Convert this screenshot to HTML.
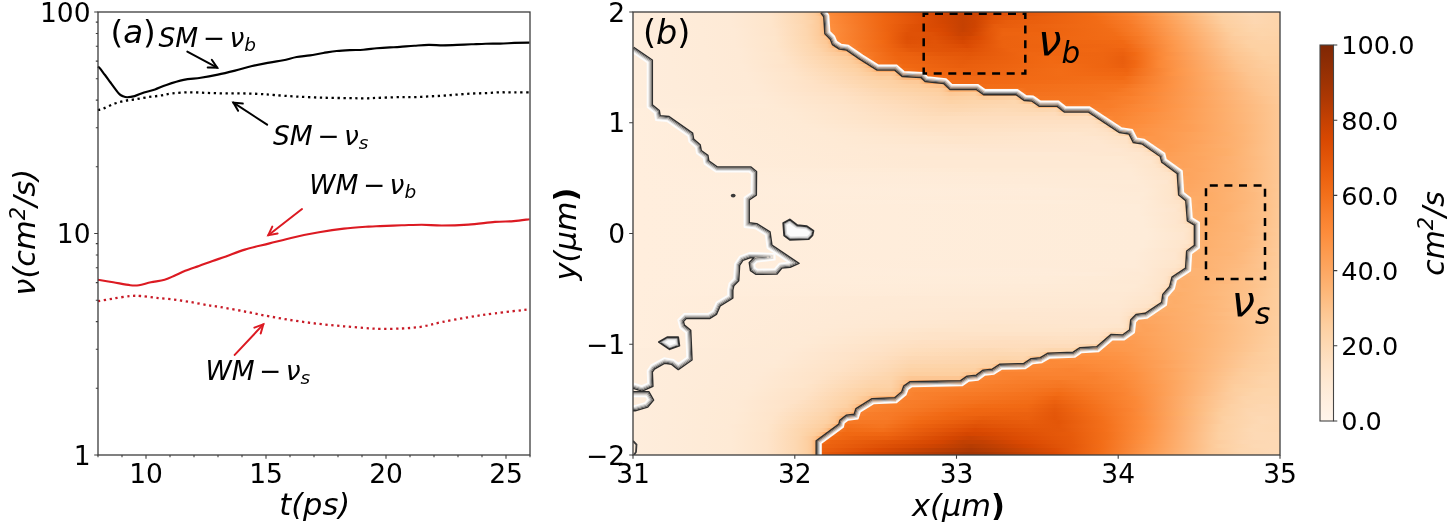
<!DOCTYPE html>
<html><head><meta charset="utf-8"><style>
html,body{margin:0;padding:0;background:#fff;}
#wrap{position:relative;width:1450px;height:525px;overflow:hidden;background:#fff;}
#hm{position:absolute;left:633px;top:12px;width:647px;height:443px;overflow:hidden;}
#hm div{position:absolute;left:0;width:100%;}
#cb{position:absolute;left:1320px;top:45px;width:13.5px;height:376px;}
svg{position:absolute;left:0;top:0;}
text{font-family:'DejaVu Sans', 'Liberation Sans', sans-serif;fill:#000;}
</style></head><body><div id="wrap">

<div id="hm">
<div style="top:0px;height:4px;background:linear-gradient(90deg,#feeddc 2px,#feead6 98px,#fee4ca 138px,#fdd6ae 170px,#fdcb9b 182px,#fdc38d 186px,#fd9243 194px,#fc8937 198px,#ec620f 254px,#d54601 302px,#c34002 330px,#ce4401 346px,#de4e05 362px,#f26c16 458px,#fa8331 498px,#fdaf6c 546px,#fdd1a3 586px,#fdd9b4 618px,#fdd5ad 646px)"></div>
<div style="top:4px;height:4px;background:linear-gradient(90deg,#feeddc 2px,#feead6 98px,#fee5cb 138px,#fdd7af 170px,#fdc997 186px,#fdbb81 190px,#fd994d 194px,#fc8b3a 198px,#ed6310 254px,#d84801 302px,#c54102 330px,#d14501 346px,#e15407 362px,#f26c16 462px,#fa8331 502px,#fdb373 554px,#fdd1a3 590px,#fdd8b2 622px,#fdd5ab 646px)"></div>
<div style="top:8px;height:4px;background:linear-gradient(90deg,#feeddc 2px,#feead6 98px,#fee5cb 138px,#fdd3a9 178px,#fdca99 186px,#fdbe84 190px,#fd9b50 194px,#fd8c3b 198px,#ef6612 250px,#de4e05 290px,#d34601 310px,#c54102 330px,#cd4401 342px,#e15407 358px,#e85d0c 374px,#eb600e 410px,#f26c16 466px,#f77a27 494px,#fd9a4e 530px,#fdcfa0 590px,#fdd7b1 622px,#fdd4aa 646px)"></div>
<div style="top:12px;height:4px;background:linear-gradient(90deg,#feeddc 2px,#feead6 98px,#fee5cb 138px,#fdd8b2 170px,#fdcb9b 186px,#fdbf86 190px,#fd9e54 194px,#fd8e3d 198px,#ef6612 250px,#e05206 278px,#d64701 310px,#c54102 330px,#ce4401 342px,#e75c0c 362px,#ea5f0e 382px,#f26c16 470px,#f77a27 498px,#fd9b50 534px,#fdcfa0 594px,#fdd6ae 622px,#fdd4aa 646px)"></div>
<div style="top:16px;height:4px;background:linear-gradient(90deg,#feeddc 2px,#feead6 102px,#fee4ca 142px,#fdd6ae 174px,#fdcb9b 186px,#fdc088 190px,#fda057 194px,#fd8f3e 198px,#ed6310 254px,#df5106 278px,#db4a02 306px,#c64102 330px,#d14501 342px,#e5590a 358px,#ec620f 370px,#ec620f 410px,#f26d17 478px,#f87f2c 506px,#fda45d 546px,#fdcd9c 594px,#fdd5ab 618px,#fdd4aa 642px,#fdd3a9 646px)"></div>
<div style="top:20px;height:4px;background:linear-gradient(90deg,#feeddc 2px,#feead6 102px,#fee4ca 142px,#fdd6ae 174px,#fdcb9b 186px,#fdc28b 190px,#fda863 194px,#fd9446 198px,#fc8b3a 202px,#ee6410 254px,#df5106 274px,#df5106 298px,#d84801 314px,#cb4302 326px,#ce4401 338px,#e25508 354px,#ed6310 370px,#ee6410 418px,#f26d17 482px,#f87d29 506px,#fda965 554px,#fdd0a2 602px,#fdd5ab 630px,#fdd3a7 646px)"></div>
<div style="top:24px;height:4px;background:linear-gradient(90deg,#feeddc 2px,#feead6 102px,#fee5cb 142px,#fdd7af 174px,#fdc997 190px,#fdc088 194px,#fd9040 202px,#fb8836 206px,#ee6410 254px,#de5005 274px,#df5106 302px,#d04501 330px,#dc4c03 346px,#eb610f 366px,#f26c16 486px,#f67925 506px,#fd994d 538px,#fdcb9b 598px,#fdd3a9 626px,#fdd2a6 646px)"></div>
<div style="top:28px;height:4px;background:linear-gradient(90deg,#feeddc 2px,#feead6 102px,#fee5cb 142px,#fdd5ad 178px,#fdc895 194px,#fdb77a 198px,#fd974a 202px,#fc8b3a 206px,#f16913 250px,#df5106 274px,#e15307 302px,#d64701 330px,#de5005 346px,#ec620f 370px,#f16913 490px,#fd974a 538px,#fdc997 598px,#fdd1a3 614px,#fdd2a6 642px,#fdd1a4 646px)"></div>
<div style="top:32px;height:4px;background:linear-gradient(90deg,#feeddc 2px,#feead6 102px,#fee5cb 142px,#fdd7af 178px,#fdcb9b 194px,#fdc28b 198px,#fd9c51 206px,#fc8b3a 214px,#f77b28 226px,#ef6612 254px,#e25508 274px,#e15407 306px,#db4b03 334px,#ec620f 370px,#ef6612 474px,#f16813 494px,#fd994d 542px,#fdc590 594px,#fdd1a3 618px,#fdd1a4 646px)"></div>
<div style="top:36px;height:4px;background:linear-gradient(90deg,#feeddc 2px,#feead6 106px,#fee4ca 146px,#fdd4aa 186px,#fdc692 202px,#fdb576 210px,#fdae6a 214px,#fd9547 218px,#fa8532 222px,#f67925 230px,#ee6511 258px,#e5590a 278px,#e15307 318px,#e05206 338px,#ed6310 378px,#f06712 462px,#ed6310 490px,#f4711c 506px,#fd9547 538px,#fdc895 602px,#fdd1a3 626px,#fdd1a3 646px)"></div>
<div style="top:40px;height:4px;background:linear-gradient(90deg,#feeddc 2px,#feead6 106px,#fee5cb 146px,#fdd3a9 190px,#fdc590 214px,#fdb77a 218px,#fd9e54 222px,#fb8836 226px,#f87d29 230px,#ee6410 262px,#e5590a 306px,#e35608 338px,#ef6612 394px,#ee6511 470px,#eb600e 490px,#f16913 502px,#fb8836 526px,#fdc48f 598px,#fdd1a3 630px,#fdd0a2 646px)"></div>
<div style="top:44px;height:4px;background:linear-gradient(90deg,#feeddc 2px,#feead6 106px,#fee4ca 150px,#fdcd9c 214px,#fdc895 218px,#fdbf86 222px,#fd8f3e 230px,#f87f2c 234px,#f5741f 242px,#ee6511 266px,#e5590a 334px,#f16813 410px,#ee6511 470px,#e95e0d 490px,#f36e19 506px,#fd9040 534px,#fdc48f 602px,#fdcfa0 630px,#fdcfa0 646px)"></div>
<div style="top:48px;height:4px;background:linear-gradient(90deg,#feeddc 2px,#feead6 106px,#fee5cb 150px,#fdce9e 218px,#fdc48f 226px,#fdb576 230px,#fa8532 238px,#f67824 242px,#ef6612 270px,#e75c0c 330px,#f16913 418px,#ee6511 470px,#e95e0d 490px,#f06712 502px,#fb8836 526px,#fdc590 606px,#fdcfa0 638px,#fdcfa0 646px)"></div>
<div style="top:52px;height:4px;background:linear-gradient(90deg,#feeddc 2px,#feead6 110px,#fee3c8 158px,#fdcfa0 222px,#fdc794 230px,#fdbf86 234px,#fdac67 238px,#fd9141 242px,#f87f2c 246px,#f67824 262px,#f16913 270px,#e95e0d 326px,#f26b15 430px,#ee6410 474px,#ea5f0e 490px,#f16813 502px,#fb8836 526px,#fdc189 602px,#fdcb9b 626px,#fdce9e 646px)"></div>
<div style="top:56px;height:4px;background:linear-gradient(90deg,#feeddc 2px,#feead6 110px,#fee4ca 158px,#fdd1a3 226px,#fdc590 238px,#fdac67 246px,#fda863 262px,#fa8532 266px,#f3701b 270px,#f06712 286px,#eb610f 338px,#f26c16 426px,#ef6612 474px,#ee6410 494px,#f57622 510px,#fd984b 546px,#fdc48f 610px,#fdce9e 642px,#fdce9e 646px)"></div>
<div style="top:60px;height:4px;background:linear-gradient(90deg,#feeddc 2px,#feead6 114px,#fee5cb 158px,#fdd4aa 222px,#fdcd9c 238px,#fdc794 246px,#fdc794 258px,#fdc38d 262px,#fdae6a 266px,#fc8a39 270px,#f57622 290px,#f16813 294px,#ed6310 342px,#f26c16 426px,#f16813 474px,#f06712 494px,#fd9243 538px,#fdc692 618px,#fdcd9c 642px,#fdcd9c 646px)"></div>
<div style="top:64px;height:4px;background:linear-gradient(90deg,#feeddc 2px,#feead6 114px,#fee5cb 162px,#fdd5ad 226px,#fdcfa0 246px,#fdcfa0 258px,#fdc590 266px,#fdbb81 270px,#fdb373 286px,#fd9b50 290px,#f67824 294px,#f16813 314px,#f16813 366px,#f26d17 454px,#f26b15 490px,#f98230 518px,#fdb06e 582px,#fdc48f 618px,#fdcb9b 642px,#fdcb9b 646px)"></div>
<div style="top:68px;height:4px;background:linear-gradient(90deg,#feeddc 2px,#feead6 118px,#fee2c6 178px,#fdd6ae 230px,#fdd2a6 254px,#fdd0a2 262px,#fdca99 274px,#fdc997 286px,#fdae6a 294px,#fd9446 310px,#f77b28 314px,#f26c16 318px,#f16813 334px,#f36f1a 470px,#f3701b 494px,#fd9446 542px,#fdc38d 618px,#fdcb9b 646px)"></div>
<div style="top:72px;height:4px;background:linear-gradient(90deg,#feeddc 2px,#feead6 122px,#fee0c3 194px,#fdd5ab 246px,#fdd2a6 262px,#fdce9e 286px,#fdc692 298px,#fdc088 310px,#fda45d 314px,#f87e2b 318px,#f77b28 342px,#f26c16 350px,#f5741f 490px,#fd9243 538px,#fdc48f 622px,#fdca99 646px)"></div>
<div style="top:76px;height:4px;background:linear-gradient(90deg,#feeddc 2px,#feead6 122px,#fedfc0 210px,#fdd7b1 246px,#fdd5ab 262px,#fdd1a4 286px,#fdce9e 306px,#fdca99 310px,#fdc189 314px,#fdb170 318px,#fdb576 342px,#fd9d53 346px,#f87e2b 350px,#f57520 354px,#f67824 382px,#f36f1a 394px,#f57520 482px,#fc8937 522px,#fdc48f 626px,#fdca99 646px)"></div>
<div style="top:80px;height:4px;background:linear-gradient(90deg,#feeddc 2px,#feead6 126px,#fee0c3 210px,#fdd9b5 246px,#fdd1a4 306px,#fdc997 318px,#fdce9e 342px,#fdc48f 346px,#fdad69 350px,#fda660 354px,#fdab66 382px,#fd9243 386px,#f77a27 390px,#f4721e 394px,#f5741f 458px,#f87d29 498px,#fda057 562px,#fdc590 630px,#fdca99 646px)"></div>
<div style="top:84px;height:4px;background:linear-gradient(90deg,#feeddc 2px,#feebd7 122px,#fee2c6 210px,#fedcb9 246px,#fdd3a9 306px,#fdd0a2 318px,#fdd2a6 342px,#fdcd9c 350px,#fdd1a4 382px,#fdc38d 386px,#fda25a 390px,#fd8f3e 394px,#fc8b3a 398px,#f57520 406px,#f67723 470px,#fc8937 518px,#fdba7f 610px,#fdc997 646px)"></div>
<div style="top:88px;height:4px;background:linear-gradient(90deg,#feeddc 2px,#feead6 134px,#fee3c8 206px,#fdd5ad 306px,#fdd3a7 318px,#fdd5ab 342px,#fdd5ad 370px,#fdd7af 382px,#fdd4aa 386px,#fdcd9c 390px,#fdc692 398px,#fb8836 406px,#f9812e 410px,#f87f2c 426px,#f57520 434px,#f9812e 498px,#fda057 562px,#fdc692 638px,#fdc997 646px)"></div>
<div style="top:92px;height:4px;background:linear-gradient(90deg,#feeddc 2px,#feebd7 130px,#fee4ca 210px,#fedcbb 270px,#fdd7b1 306px,#fdd6ae 326px,#fdd8b2 366px,#fdd8b2 386px,#fdd6ae 398px,#fdd1a3 402px,#fdb97d 406px,#fdba7f 422px,#fda55f 426px,#fb8634 430px,#f77b28 434px,#f87d29 458px,#f87d29 478px,#fd984b 546px,#fdc895 646px)"></div>
<div style="top:96px;height:4px;background:linear-gradient(90deg,#ffeedd 2px,#feead5 150px,#fee4ca 214px,#fdd9b5 306px,#fdd8b2 322px,#fddbb8 370px,#fdd8b2 402px,#fdd7af 410px,#fdd8b2 422px,#fdd1a4 426px,#fdb373 430px,#fda159 434px,#fda45d 454px,#f98230 462px,#f87e2b 470px,#fd8c3b 518px,#fdb271 598px,#fdc895 646px)"></div>
<div style="top:100px;height:4px;background:linear-gradient(90deg,#ffeedd 2px,#feead5 154px,#fee4ca 222px,#fddbb8 306px,#fedcbb 362px,#fedcb9 398px,#fedcbb 422px,#fdd5ad 430px,#fdd7b1 454px,#fdc895 458px,#fda55f 462px,#fd8c3b 466px,#f98230 470px,#fa8532 490px,#fd9b50 550px,#fdba7f 618px,#fdc895 646px)"></div>
<div style="top:104px;height:4px;background:linear-gradient(90deg,#ffeedd 2px,#feead5 158px,#fedebd 302px,#fedebf 366px,#fedebf 414px,#fedebd 442px,#fedfc0 454px,#fedcbb 458px,#fdd5ab 462px,#fd994d 470px,#fc8937 474px,#fa8532 482px,#fd984b 542px,#fdb87c 614px,#fdc895 646px)"></div>
<div style="top:108px;height:4px;background:linear-gradient(90deg,#ffeedd 2px,#feead5 166px,#fedfc0 302px,#fedfc0 354px,#fee0c3 394px,#fee0c3 414px,#fee0c3 442px,#fee0c3 458px,#fedfc0 462px,#fddab6 466px,#fdcd9c 470px,#fdab66 474px,#fd9243 478px,#fc8937 482px,#fd8e3d 510px,#fdad69 590px,#fdc794 646px)"></div>
<div style="top:112px;height:4px;background:linear-gradient(90deg,#ffeedd 2px,#feead5 174px,#fee1c4 298px,#fee1c4 358px,#fee2c7 442px,#fee2c7 458px,#fedebf 470px,#fdd7af 474px,#fdbf86 478px,#fd9f56 482px,#fd9040 486px,#fd8c3b 494px,#fd9f56 558px,#fdb576 610px,#fdc794 646px)"></div>
<div style="top:116px;height:4px;background:linear-gradient(90deg,#ffeedd 2px,#feead5 182px,#fee2c6 306px,#fee3c8 398px,#fee4ca 462px,#fee0c3 474px,#fedcbb 478px,#fdd1a3 482px,#fdb06e 486px,#fda057 490px,#fd9141 502px,#fd9f56 558px,#fdb576 610px,#fdc794 646px)"></div>
<div style="top:120px;height:4px;background:linear-gradient(90deg,#ffeedd 2px,#feead5 190px,#fee3c8 326px,#fee6ce 442px,#fee3c8 474px,#fee0c1 482px,#fdd1a4 494px,#fd9649 502px,#fd9243 510px,#fdae6a 594px,#fdc794 646px)"></div>
<div style="top:124px;height:4px;background:linear-gradient(90deg,#ffeedd 2px,#feead5 194px,#fee5cb 334px,#fee6cf 462px,#fee1c4 494px,#fdd1a3 498px,#fda25a 502px,#fd974a 506px,#fd974a 526px,#fdb170 602px,#fdc794 646px)"></div>
<div style="top:128px;height:4px;background:linear-gradient(90deg,#ffeedd 2px,#feead5 202px,#fee5cc 322px,#fee7d0 466px,#fee3c8 494px,#fedcb9 498px,#fdc48f 502px,#fdb271 510px,#fd9e54 514px,#fd984b 518px,#fda35c 566px,#fdb678 614px,#fdc794 646px)"></div>
<div style="top:132px;height:4px;background:linear-gradient(90deg,#ffeedd 2px,#feead5 210px,#fee6cf 346px,#fee7d1 470px,#fee5cb 494px,#fedebd 506px,#fdd9b4 510px,#fda762 518px,#fd9c51 522px,#fd9c51 538px,#fdb373 606px,#fdc794 646px)"></div>
<div style="top:136px;height:4px;background:linear-gradient(90deg,#ffeedd 2px,#feead5 222px,#fee7d1 350px,#fee7d1 486px,#fee2c7 510px,#fedebd 514px,#fdd1a3 518px,#fdb373 522px,#fda159 526px,#fd9c51 534px,#fdae6a 594px,#fdc794 646px)"></div>
<div style="top:140px;height:4px;background:linear-gradient(90deg,#ffeedd 2px,#fee9d4 262px,#fee9d4 434px,#fee6ce 506px,#fee0c3 518px,#fdd8b2 522px,#fda863 530px,#fd9e54 534px,#fdae6a 594px,#fdc794 646px)"></div>
<div style="top:144px;height:4px;background:linear-gradient(90deg,#ffeedd 2px,#fee9d3 290px,#fee9d3 486px,#fee4ca 518px,#fee2c6 522px,#fedcb9 526px,#fdb678 530px,#fda057 534px,#fda660 570px,#fdba7f 622px,#fdc794 646px)"></div>
<div style="top:148px;height:4px;background:linear-gradient(90deg,#ffeedd 2px,#fee9d4 286px,#fee9d4 486px,#fee6ce 518px,#fedfc0 526px,#fdae6a 534px,#fda35c 538px,#fda057 542px,#fdb06e 598px,#fdc794 646px)"></div>
<div style="top:152px;height:4px;background:linear-gradient(90deg,#ffeedd 2px,#fee9d4 302px,#fee9d4 498px,#fee5cb 522px,#fedebf 530px,#fdd3a7 534px,#fdb77a 538px,#fda762 542px,#fda25a 550px,#fdb271 602px,#fdc794 646px)"></div>
<div style="top:156px;height:4px;background:linear-gradient(90deg,#ffeedd 2px,#feead5 350px,#feead5 498px,#fee5cc 526px,#fee0c3 534px,#fdd8b2 538px,#fdad69 546px,#fda55f 550px,#fda660 566px,#fdb576 610px,#fdc794 646px)"></div>
<div style="top:160px;height:4px;background:linear-gradient(90deg,#ffeedd 2px,#feebd7 354px,#feead6 498px,#fee4ca 534px,#fee2c6 538px,#fedcbb 542px,#fdc28b 546px,#fda762 550px,#fda45d 554px,#fdb271 602px,#fdc794 646px)"></div>
<div style="top:164px;height:4px;background:linear-gradient(90deg,#ffeedd 2px,#feebd8 366px,#feead6 502px,#fee4ca 538px,#fedfc0 542px,#fda863 550px,#fda55f 558px,#fdb271 602px,#fdc794 646px)"></div>
<div style="top:168px;height:4px;background:linear-gradient(90deg,#ffeedd 2px,#feebd8 390px,#feebd7 502px,#fee6cf 534px,#fee0c1 542px,#fdc895 546px,#fda965 550px,#fda55f 554px,#fdb271 602px,#fdc794 646px)"></div>
<div style="top:172px;height:4px;background:linear-gradient(90deg,#ffeedd 2px,#feecd9 394px,#feead6 510px,#fee5cb 538px,#fee0c3 542px,#fdcd9c 546px,#fdac67 550px,#fda660 554px,#fdb576 610px,#fdc895 646px)"></div>
<div style="top:176px;height:4px;background:linear-gradient(90deg,#ffeedd 2px,#feecda 426px,#feead6 514px,#fee5cb 538px,#fee1c4 542px,#fdd0a2 546px,#fdad69 550px,#fda762 554px,#fdb170 598px,#fdc590 642px,#fdc895 646px)"></div>
<div style="top:180px;height:4px;background:linear-gradient(90deg,#ffeedd 2px,#feecda 414px,#feebd7 510px,#fee5cb 538px,#fee1c4 542px,#fdd2a6 546px,#fdb373 550px,#fda965 554px,#fdac67 578px,#fdba7f 622px,#fdc895 646px)"></div>
<div style="top:184px;height:4px;background:linear-gradient(90deg,#ffeedd 2px,#feebd8 506px,#fee5cc 538px,#fedebf 546px,#fdd2a6 550px,#fdb97d 554px,#fdac67 558px,#fdac67 578px,#fdba7f 622px,#fdc895 646px)"></div>
<div style="top:188px;height:4px;background:linear-gradient(90deg,#ffeedd 2px,#feeddb 422px,#feebd7 514px,#fee3c8 546px,#fee0c1 550px,#fdcb9b 554px,#fdae6a 558px,#fda965 566px,#fdb576 610px,#fdc895 646px)"></div>
<div style="top:192px;height:4px;background:linear-gradient(90deg,#ffeedd 2px,#feecd9 506px,#fee5cb 546px,#fee0c3 550px,#fdcfa0 554px,#fdaf6c 558px,#fdab66 566px,#fdb170 598px,#fdc189 634px,#fdc895 646px)"></div>
<div style="top:196px;height:4px;background:linear-gradient(90deg,#ffeedd 2px,#feecd9 506px,#fee6cf 542px,#fee1c4 550px,#fdd1a4 554px,#fdb170 558px,#fdab66 562px,#fdb06e 594px,#fdc189 634px,#fdc997 646px)"></div>
<div style="top:200px;height:4px;background:linear-gradient(90deg,#ffeedd 2px,#feecd9 506px,#fee5cc 546px,#fee2c6 550px,#fdd3a9 554px,#fdb271 558px,#fdac67 562px,#fdb06e 590px,#fdc189 634px,#fdc997 646px)"></div>
<div style="top:204px;height:4px;background:linear-gradient(90deg,#ffeedd 2px,#feecd9 510px,#fee5cc 546px,#fee2c6 550px,#fdd5ad 554px,#fdb475 558px,#fdad69 562px,#fdae6a 582px,#fdbf86 630px,#fdc997 646px)"></div>
<div style="top:208px;height:4px;background:linear-gradient(90deg,#ffeedd 2px,#feecd9 510px,#fee6cf 542px,#fee2c7 550px,#fddbb8 554px,#fdcfa0 558px,#fdba7f 562px,#fdb06e 566px,#fdad69 574px,#fdb97d 618px,#fdc997 646px)"></div>
<div style="top:212px;height:4px;background:linear-gradient(90deg,#ffeedd 2px,#feecd9 510px,#fee5cb 550px,#fee0c1 558px,#fdd1a4 562px,#fdb271 566px,#fdad69 570px,#fdb678 610px,#fdc997 646px)"></div>
<div style="top:216px;height:4px;background:linear-gradient(90deg,#ffeedd 2px,#feecd9 514px,#fee5cb 554px,#fee1c4 558px,#fdd1a4 562px,#fdb373 566px,#fdae6a 570px,#fdb678 610px,#fdca99 646px)"></div>
<div style="top:220px;height:4px;background:linear-gradient(90deg,#ffeedd 2px,#feecd9 514px,#fee6cf 550px,#fee1c4 558px,#fdd1a4 562px,#fdb373 566px,#fdae6a 570px,#fdb87c 614px,#fdc794 642px,#fdca99 646px)"></div>
<div style="top:224px;height:4px;background:linear-gradient(90deg,#ffeedd 2px,#feecd9 514px,#fee6cf 550px,#fee1c4 558px,#fdd1a4 562px,#fdb373 566px,#fdaf6c 570px,#fdb678 606px,#fdca99 646px)"></div>
<div style="top:228px;height:4px;background:linear-gradient(90deg,#ffeedd 2px,#feecd9 510px,#fee5cb 554px,#fee1c4 558px,#fdd1a4 562px,#fdb475 566px,#fdaf6c 570px,#fdba7f 618px,#fdca99 646px)"></div>
<div style="top:232px;height:4px;background:linear-gradient(90deg,#ffeedd 2px,#feecd9 510px,#fee6ce 546px,#fee2c6 554px,#fedcbb 558px,#fdd0a2 562px,#fdb475 566px,#fdaf6c 570px,#fdb97d 614px,#fdca99 646px)"></div>
<div style="top:236px;height:4px;background:linear-gradient(90deg,#ffeedd 2px,#feecd9 506px,#fee5cc 546px,#fee2c6 550px,#fdd9b4 554px,#fdb678 562px,#fdb06e 570px,#fdb87c 610px,#fdcb9b 646px)"></div>
<div style="top:240px;height:4px;background:linear-gradient(90deg,#ffeedd 2px,#feecd9 502px,#fee6cf 542px,#fee1c4 550px,#fdd3a7 554px,#fdb576 558px,#fdb06e 562px,#fdb576 598px,#fdc895 642px,#fdcb9b 646px)"></div>
<div style="top:244px;height:4px;background:linear-gradient(90deg,#ffeedd 2px,#feecd9 502px,#fee6cf 542px,#fee1c4 550px,#fdd1a4 554px,#fdb475 558px,#fdb06e 562px,#fdb77a 602px,#fdcb9b 646px)"></div>
<div style="top:248px;height:4px;background:linear-gradient(90deg,#ffeedd 2px,#feebd8 502px,#fee5cb 546px,#fee0c3 550px,#fdd0a2 554px,#fdb475 558px,#fdb06e 562px,#fdba7f 610px,#fdcb9b 646px)"></div>
<div style="top:252px;height:4px;background:linear-gradient(90deg,#ffeedd 2px,#feebd8 502px,#fee5cb 542px,#fee0c1 550px,#fdcd9c 554px,#fdb373 558px,#fdb06e 562px,#fdba7f 606px,#fdcb9b 646px)"></div>
<div style="top:256px;height:4px;background:linear-gradient(90deg,#ffeedd 2px,#feecda 414px,#feead6 510px,#fee2c7 542px,#fedebf 546px,#fdd5ad 550px,#fdb373 558px,#fdb373 578px,#fdc28b 626px,#fdcd9c 646px)"></div>
<div style="top:260px;height:4px;background:linear-gradient(90deg,#ffeedd 2px,#feecda 458px,#fee9d4 514px,#fee4ca 534px,#fee1c4 538px,#fddab6 542px,#fdba7f 550px,#fdb373 554px,#fdb373 574px,#fdc38d 626px,#fdcd9c 646px)"></div>
<div style="top:264px;height:4px;background:linear-gradient(90deg,#ffeedd 2px,#feecd9 414px,#feead5 506px,#fee5cc 530px,#fee2c7 534px,#fdd9b5 538px,#fdc28b 542px,#fdb475 546px,#fdb06e 554px,#fdbe84 610px,#fdcd9c 646px)"></div>
<div style="top:268px;height:4px;background:linear-gradient(90deg,#ffeedd 2px,#feecd9 406px,#fee9d4 510px,#fee5cb 530px,#fee2c6 534px,#fdd4aa 538px,#fdb678 542px,#fdaf6c 546px,#fdb87c 594px,#fdcd9c 646px)"></div>
<div style="top:272px;height:4px;background:linear-gradient(90deg,#ffeedd 2px,#feebd8 390px,#feead5 502px,#fee5cc 526px,#fedfc0 534px,#fdcd9c 538px,#fdb271 542px,#fdaf6c 550px,#fdc189 618px,#fdcd9c 646px)"></div>
<div style="top:276px;height:4px;background:linear-gradient(90deg,#ffeedd 2px,#feebd7 378px,#feead5 494px,#fee7d0 518px,#fee4ca 526px,#fee0c1 530px,#fdd3a9 534px,#fdb97d 538px,#fdb06e 542px,#fdb170 558px,#fdc088 614px,#fdce9e 646px)"></div>
<div style="top:280px;height:4px;background:linear-gradient(90deg,#ffeedd 2px,#feead6 406px,#fee9d4 490px,#fee6cf 518px,#fee2c6 526px,#fdd6ae 530px,#fdbb81 534px,#fdb06e 538px,#fdae6a 546px,#fdc28b 618px,#fdce9e 646px)"></div>
<div style="top:284px;height:4px;background:linear-gradient(90deg,#ffeedd 2px,#feead6 250px,#fee9d4 486px,#fee5cb 522px,#fee1c4 526px,#fdd0a2 530px,#fdb170 534px,#fdad69 538px,#fdb678 582px,#fdce9e 646px)"></div>
<div style="top:288px;height:4px;background:linear-gradient(90deg,#ffeedd 2px,#feead6 242px,#fee9d3 482px,#fee4ca 518px,#feddbc 526px,#fdca99 530px,#fdb06e 534px,#fdad69 542px,#fdc189 614px,#fdce9e 646px)"></div>
<div style="top:292px;height:4px;background:linear-gradient(90deg,#ffeedd 2px,#feead6 234px,#fee9d3 410px,#fee8d2 486px,#fee3c8 514px,#fee0c1 518px,#fdd8b2 522px,#fdb475 530px,#fdad69 534px,#fdb271 566px,#fdce9e 646px)"></div>
<div style="top:296px;height:4px;background:linear-gradient(90deg,#ffeedd 2px,#feead6 226px,#fee8d2 370px,#fee7d1 486px,#fee1c4 510px,#feddbc 514px,#fdd1a4 518px,#fdba7f 522px,#fdae6a 526px,#fdac67 538px,#fdba7f 594px,#fdce9e 646px)"></div>
<div style="top:300px;height:4px;background:linear-gradient(90deg,#ffeedd 2px,#feead6 218px,#fee7d1 370px,#fee7d0 486px,#fee2c6 498px,#fdd4aa 506px,#fdd1a4 510px,#fdc590 514px,#fdb170 518px,#fda965 522px,#fdb06e 558px,#fdce9e 646px)"></div>
<div style="top:304px;height:4px;background:linear-gradient(90deg,#ffeedd 2px,#feead6 206px,#fee7d0 374px,#fee6cf 486px,#fee2c6 494px,#fdd9b5 498px,#fdc088 502px,#fdae6a 506px,#fda660 522px,#fdb97d 590px,#fdcfa0 646px)"></div>
<div style="top:308px;height:4px;background:linear-gradient(90deg,#ffeedd 2px,#feead6 198px,#fee6ce 342px,#fee6cf 486px,#fee1c4 494px,#fdcfa0 498px,#fda965 502px,#fda35c 506px,#fdb06e 558px,#fdcfa0 646px)"></div>
<div style="top:312px;height:4px;background:linear-gradient(90deg,#ffeedd 2px,#feead6 190px,#fee5cb 354px,#fee6ce 462px,#fee5cb 490px,#fee0c1 494px,#fdc997 498px,#fda660 502px,#fda25a 510px,#fdb373 570px,#fdcfa0 646px)"></div>
<div style="top:316px;height:4px;background:linear-gradient(90deg,#ffeedd 2px,#feead6 182px,#fee5cb 302px,#fee5cb 426px,#fee4ca 466px,#fee2c6 482px,#fee1c4 490px,#fddbb8 494px,#fdc38d 498px,#fda45d 502px,#fda25a 514px,#fdb77a 582px,#fdcfa0 646px)"></div>
<div style="top:320px;height:4px;background:linear-gradient(90deg,#ffeedd 2px,#feead5 186px,#fee3c8 302px,#fee3c8 430px,#fee2c7 466px,#fedebf 474px,#fdd5ad 478px,#fdd7b1 486px,#fdd5ad 490px,#fdbd83 494px,#fda762 498px,#fda057 502px,#fdae6a 554px,#fdcfa0 646px)"></div>
<div style="top:324px;height:4px;background:linear-gradient(90deg,#ffeedd 2px,#feead6 170px,#fee5cb 250px,#fee0c3 370px,#fee0c3 406px,#fee1c4 426px,#fee0c3 466px,#fedcbb 470px,#fdcfa0 474px,#fdaf6c 478px,#fda965 482px,#fdae6a 490px,#fda159 494px,#fd9e54 502px,#fdaf6c 558px,#fdd0a2 646px)"></div>
<div style="top:328px;height:4px;background:linear-gradient(90deg,#ffeedd 2px,#feead5 174px,#fee4ca 250px,#fee0c3 286px,#fedebf 370px,#fedfc0 426px,#fedfc0 462px,#fddab6 466px,#fdc895 470px,#fda863 474px,#fd9b50 478px,#fd9b50 498px,#fdb271 566px,#fdcfa0 642px,#fdd0a2 646px)"></div>
<div style="top:332px;height:4px;background:linear-gradient(90deg,#ffeedd 2px,#feead5 166px,#fee2c6 254px,#fedfc0 286px,#fedcbb 426px,#fedcbb 442px,#fdd7b1 446px,#fdd3a9 462px,#fdc189 466px,#fda35c 470px,#fd984b 474px,#fd9a4e 498px,#fdb271 566px,#fdcb9b 630px,#fdd0a2 646px)"></div>
<div style="top:336px;height:4px;background:linear-gradient(90deg,#feeddc 2px,#feead6 154px,#fee2c7 246px,#fedebd 278px,#fddab6 358px,#fedcb9 390px,#fdd9b4 410px,#fdd7af 418px,#fdd7af 438px,#fdd1a3 442px,#fdb77a 446px,#fda965 450px,#fda35c 462px,#fd9547 470px,#fd9c51 510px,#fdb678 574px,#fdcfa0 638px,#fdd1a3 646px)"></div>
<div style="top:340px;height:4px;background:linear-gradient(90deg,#feeddc 2px,#feead6 150px,#fee0c3 250px,#fedcb9 282px,#fdd8b2 358px,#fdd8b2 394px,#fdd7af 406px,#fdd2a6 410px,#fdc189 414px,#fdb87c 418px,#fdb06e 438px,#fda660 442px,#fd9649 446px,#fd9141 450px,#fd9547 490px,#fdac67 550px,#fdcd9c 626px,#fdd1a3 646px)"></div>
<div style="top:344px;height:4px;background:linear-gradient(90deg,#feeddc 2px,#feead6 146px,#fee4ca 210px,#fedfc0 250px,#fdd9b5 278px,#fdd6ae 358px,#fdd5ab 370px,#fdd6ae 390px,#fdd3a9 394px,#fdc895 398px,#fdc088 406px,#fd994d 414px,#fd9243 418px,#fd9040 442px,#fd8c3b 450px,#fd9446 494px,#fdae6a 554px,#fdca99 618px,#fdd1a4 646px)"></div>
<div style="top:348px;height:4px;background:linear-gradient(90deg,#feeddc 2px,#feead6 142px,#fee2c6 218px,#fedcbb 254px,#fdd7b1 278px,#fdd5ad 342px,#fdd2a6 362px,#fdcd9c 366px,#fdce9e 390px,#fd9f56 398px,#fd9649 402px,#fc8937 418px,#fd8f3e 482px,#fda159 530px,#fdca99 614px,#fdd1a4 642px,#fdd1a4 646px)"></div>
<div style="top:352px;height:4px;background:linear-gradient(90deg,#feeddc 2px,#feead5 142px,#fee2c6 210px,#fddbb8 254px,#fdd5ab 278px,#fdd3a7 342px,#fdcfa0 358px,#fdc590 362px,#fdaf6c 366px,#fda45d 370px,#fda159 390px,#fc8a39 398px,#fb8735 446px,#fd9141 494px,#fdb678 570px,#fdcd9c 618px,#fdd2a6 642px,#fdd2a6 646px)"></div>
<div style="top:356px;height:4px;background:linear-gradient(90deg,#feeddc 2px,#feead6 130px,#fee2c6 206px,#fdd9b5 254px,#fdd2a6 278px,#fdd1a3 330px,#fdd0a2 342px,#fdc997 346px,#fdba7f 350px,#fdb170 358px,#fd8f3e 366px,#fc8937 370px,#fa8331 438px,#fd8e3d 490px,#fda45d 538px,#fdcb9b 610px,#fdd3a7 646px)"></div>
<div style="top:360px;height:4px;background:linear-gradient(90deg,#feeddc 2px,#feead6 126px,#fee3c8 190px,#fddab6 242px,#fdd6ae 258px,#fdcfa0 278px,#fdcfa0 326px,#fdc590 334px,#fdc28b 342px,#fdb06e 346px,#fd9649 350px,#fd8e3d 354px,#fa8331 370px,#fa8331 462px,#fd9141 502px,#fdb373 562px,#fdcd9c 610px,#fdd3a7 638px,#fdd3a7 646px)"></div>
<div style="top:364px;height:4px;background:linear-gradient(90deg,#feeddc 2px,#feead6 122px,#fee3c8 186px,#fdd7b1 242px,#fdd5ab 258px,#fdc794 278px,#fdc692 326px,#fdbb81 330px,#fda45d 334px,#fb8634 350px,#f9802d 386px,#f9812e 462px,#fd9040 502px,#fdaf6c 554px,#fdca99 602px,#fdd3a7 630px,#fdd3a9 646px)"></div>
<div style="top:368px;height:4px;background:linear-gradient(90deg,#feeddc 2px,#feead6 118px,#fee4ca 178px,#fdd5ad 238px,#fdd3a9 258px,#fdc794 270px,#fdbf86 274px,#fdaf6c 278px,#fda45d 326px,#fb8836 334px,#fa8331 342px,#f67925 426px,#fb8836 490px,#fda660 542px,#fdca99 598px,#fdd3a9 630px,#fdd4aa 646px)"></div>
<div style="top:372px;height:4px;background:linear-gradient(90deg,#feeddc 2px,#feead6 114px,#fee5cb 170px,#fdd3a7 242px,#fdd2a6 258px,#fdc997 266px,#fdb87c 270px,#fda057 274px,#fd8f3e 278px,#fa8331 330px,#f87d29 362px,#f57622 430px,#fa8532 486px,#fd994d 522px,#fdce9e 602px,#fdd4aa 638px,#fdd4aa 646px)"></div>
<div style="top:376px;height:4px;background:linear-gradient(90deg,#feeddc 2px,#feead5 118px,#fee2c6 178px,#fdd0a2 238px,#fdcfa0 258px,#fdc590 266px,#fdac67 270px,#fc8b3a 274px,#fa8532 278px,#f67824 386px,#f3701b 426px,#fb8735 494px,#fda159 534px,#fdcfa0 602px,#fdd5ab 630px,#fdd5ab 646px)"></div>
<div style="top:380px;height:4px;background:linear-gradient(90deg,#feeddc 2px,#feead5 114px,#fee2c6 174px,#fdd0a2 230px,#fdc997 242px,#fdc794 258px,#fdc48f 262px,#fdb271 266px,#fd974a 270px,#fb8634 274px,#f9812e 282px,#f4711c 402px,#f26b15 426px,#fa8331 490px,#fd9e54 530px,#fdcb9b 594px,#fdd5ab 622px,#fdd5ab 646px)"></div>
<div style="top:384px;height:4px;background:linear-gradient(90deg,#feeddc 2px,#feead5 110px,#fee2c6 170px,#fdd1a3 222px,#fdc692 234px,#fdbb81 238px,#fdb271 254px,#fdad69 262px,#fd9243 266px,#fa8331 270px,#f67723 326px,#f36f1a 398px,#ee6511 422px,#f4711c 450px,#fc8937 502px,#fdc088 574px,#fdd3a9 610px,#fdd6ae 642px,#fdd5ad 646px)"></div>
<div style="top:388px;height:4px;background:linear-gradient(90deg,#feeddc 2px,#feead6 102px,#fee2c7 162px,#fdd2a6 214px,#fdc895 226px,#fdc088 230px,#fdb06e 234px,#fd994d 238px,#fd9040 242px,#fb8836 262px,#f87e2b 270px,#f3701b 354px,#f26c16 398px,#eb600e 422px,#f3701b 454px,#fb8836 502px,#fdb475 558px,#fdcb9b 590px,#fdd5ab 614px,#fdd6ae 646px)"></div>
<div style="top:392px;height:4px;background:linear-gradient(90deg,#feeddc 2px,#feead6 102px,#fee4ca 150px,#fdd9b4 190px,#fdd0a2 214px,#fdc48f 222px,#fdb77a 226px,#fda057 230px,#fd8e3d 234px,#fa8532 238px,#f26c16 346px,#f16913 394px,#e75c0c 422px,#f4711c 462px,#fc8a39 506px,#fdbb81 566px,#fdd1a4 598px,#fdd7b1 630px,#fdd6ae 646px)"></div>
<div style="top:396px;height:4px;background:linear-gradient(90deg,#feeddc 2px,#feead5 106px,#fee4ca 146px,#fdd7b1 190px,#fdc895 218px,#fdb576 222px,#fd9243 226px,#fa8532 230px,#f06712 342px,#ef6612 394px,#e5590a 422px,#f06712 446px,#fa8331 498px,#fdb271 554px,#fdce9e 590px,#fdd6ae 614px,#fdd7b1 642px,#fdd7af 646px)"></div>
<div style="top:400px;height:4px;background:linear-gradient(90deg,#feeddc 2px,#feead5 102px,#fee4ca 142px,#fdd4aa 194px,#fdca99 206px,#fdba7f 214px,#fdb678 218px,#fda762 222px,#fa8331 226px,#f87e2b 234px,#f77a27 258px,#f06712 318px,#ed6310 362px,#eb610f 398px,#e45709 422px,#f36e19 462px,#fb8735 502px,#fdac67 546px,#fdcd9c 586px,#fdd7b1 618px,#fdd7b1 646px)"></div>
<div style="top:404px;height:4px;background:linear-gradient(90deg,#feeddc 2px,#feead5 102px,#fee5cb 138px,#fdd2a6 194px,#fdca99 202px,#fdc189 206px,#fdac67 210px,#fd8f3e 214px,#f87d29 226px,#f77a27 254px,#f26d17 286px,#e85d0c 350px,#eb600e 394px,#e35608 422px,#f36e19 466px,#fc8937 506px,#fdd0a2 590px,#fdd9b4 626px,#fdd7b1 646px)"></div>
<div style="top:408px;height:4px;background:linear-gradient(90deg,#feeddc 2px,#feead5 102px,#fee4ca 138px,#fdd0a2 194px,#fdc895 202px,#fdb271 206px,#fb8634 210px,#f67925 214px,#f67723 254px,#f16813 286px,#e45709 346px,#e75c0c 398px,#e35608 426px,#f36f1a 470px,#fd8e3d 510px,#fdb77a 558px,#fdd2a6 594px,#fdd9b5 630px,#fdd8b2 646px)"></div>
<div style="top:412px;height:4px;background:linear-gradient(90deg,#feeddc 2px,#feead6 94px,#fee5cb 134px,#fdcfa0 190px,#fdc590 198px,#fdb678 202px,#f77a27 210px,#f4711c 214px,#f57520 250px,#ee6410 282px,#df5106 342px,#e5590a 398px,#e45709 426px,#f4711c 474px,#fd9141 514px,#fdcfa0 586px,#fdd9b4 622px,#fdd8b2 646px)"></div>
<div style="top:416px;height:4px;background:linear-gradient(90deg,#feeddc 2px,#feead5 98px,#fee5cb 134px,#fdce9e 186px,#fdc997 190px,#fdc189 194px,#fdac67 198px,#fc8b3a 202px,#f57622 206px,#f26d17 214px,#f36f1a 250px,#ea5f0e 282px,#db4a02 342px,#e35608 402px,#e4580a 430px,#f36e19 470px,#fd8e3d 510px,#fdcfa0 586px,#fdd9b4 618px,#fdd8b2 646px)"></div>
<div style="top:420px;height:4px;background:linear-gradient(90deg,#feeddc 2px,#feead5 98px,#fee4ca 134px,#fdd7af 166px,#fdcd9c 182px,#fdc794 186px,#fdba7f 190px,#f9802d 198px,#f3701b 202px,#f16913 210px,#ef6612 254px,#d54601 334px,#d64701 350px,#e15307 402px,#e75b0b 438px,#f3701b 474px,#fd9243 514px,#fdd0a2 586px,#fdd9b5 622px,#fdd9b4 646px)"></div>
<div style="top:424px;height:4px;background:linear-gradient(90deg,#feeddc 2px,#feead5 98px,#fee4ca 134px,#fdd6ae 166px,#fdcb9b 178px,#fdc48f 182px,#fdb271 186px,#fd9243 190px,#f57520 194px,#f26b15 198px,#ec620f 222px,#ea5f0e 254px,#d54601 318px,#c94202 338px,#db4b03 382px,#e65a0b 438px,#f3701b 474px,#fd9344 514px,#fdd0a2 586px,#fdd9b5 622px,#fdd9b4 646px)"></div>
<div style="top:428px;height:4px;background:linear-gradient(90deg,#feeddc 2px,#feead5 98px,#fee4ca 134px,#fdd8b2 162px,#fdd0a2 174px,#fdca99 178px,#fdb77a 182px,#fa8331 186px,#f26d17 190px,#ed6310 198px,#de5005 274px,#d54601 306px,#c14002 330px,#c34002 350px,#da4902 390px,#e5590a 438px,#f26b15 466px,#fd9141 510px,#fdca99 578px,#fdd7b1 610px,#fdd9b5 642px,#fdd9b4 646px)"></div>
<div style="top:432px;height:4px;background:linear-gradient(90deg,#feeddc 2px,#feead5 98px,#fee4ca 134px,#fdd8b2 162px,#fdd0a2 174px,#fdca99 178px,#fdb77a 182px,#f87d29 186px,#ed6310 190px,#e15307 242px,#d14501 294px,#b63c02 338px,#c14002 362px,#d54601 394px,#e65a0b 442px,#f36e19 470px,#fd994d 518px,#fdd0a2 586px,#fdd9b4 622px,#fdd9b4 646px)"></div>
<div style="top:436px;height:4px;background:linear-gradient(90deg,#feeddc 2px,#feead5 98px,#fee4ca 134px,#fdd8b2 162px,#fdd0a2 174px,#fdca99 178px,#fdb678 182px,#f67925 186px,#ea5f0e 190px,#db4a02 246px,#bb3d02 310px,#ad3803 338px,#b93d02 362px,#dd4d04 422px,#f26b15 466px,#fd974a 514px,#fdca99 578px,#fdd6ae 606px,#fdd9b5 638px,#fdd9b4 646px)"></div>
<div style="top:440px;height:4px;background:linear-gradient(90deg,#feeddc 2px,#feead5 98px,#fee4ca 134px,#fdd8b2 162px,#fdd0a2 174px,#fdca99 178px,#fdb576 182px,#f57622 186px,#e65a0b 190px,#d54601 234px,#ad3803 314px,#a43503 334px,#a93703 354px,#db4a02 422px,#f36f1a 470px,#fd994d 514px,#fdca99 578px,#fdd6ae 610px,#fdd9b5 642px,#fdd9b4 646px)"></div>
</div>
<div id="cb" style="background:linear-gradient(to bottom,#7f2704 0%,#8e2d04 5%,#9e3303 10%,#b03903 15%,#c54102 20%,#d84801 25%,#e25508 30%,#ec620f 35%,#f3701b 40%,#f87f2c 45%,#fd8c3b 50%,#fd9a4e 55%,#fda762 60%,#fdb576 65%,#fdc38d 70%,#fdd0a2 75%,#fdd9b4 80%,#fee2c6 85%,#fee9d4 90%,#ffefe0 95%,#fff5eb 100%)"></div>
<svg width="1450" height="525" viewBox="0 0 1450 525">
<path d="M98,66.5 C98.3,66.8 98.8,67 100,68.4 C101.2,69.8 103.2,72.7 105,75 C106.8,77.3 108.2,79.4 110.5,82.5 C112.8,85.6 116.7,91.2 118.8,93.5 C120.9,95.8 121.6,95.6 123,96.2 C124.4,96.8 125.3,97.2 127.2,97.2 C129.1,97.2 131.8,96.9 134.6,96.1 C137.4,95.3 140.6,93.6 144,92.5 C147.4,91.4 151.3,90.7 155,89.4 C158.7,88.1 161.6,86.5 166.4,84.9 C171.2,83.3 177.9,81.1 183.6,79.9 C189.3,78.7 195,78.7 200.7,77.8 C206.4,76.9 212.2,75.8 217.9,74.6 C223.6,73.4 229.3,72 235,70.6 C240.7,69.2 246.4,67.3 252.1,66 C257.8,64.7 264.1,63.6 269.3,62.6 C274.5,61.6 278.7,61.2 283.3,60.3 C287.9,59.4 292.2,57.8 296.7,57 C301.1,56.2 305.6,56.1 310,55.4 C314.4,54.7 318.9,53.7 323.3,53 C327.8,52.3 332.2,51.5 336.7,51 C341.1,50.5 345.6,50.3 350,50.1 C354.4,49.9 358.9,50 363.3,49.7 C367.8,49.4 372.2,48.7 376.7,48.3 C381.1,47.9 386.1,47.6 390,47.4 C393.9,47.2 395.9,47.2 400,46.9 C404.1,46.6 409.5,46 414.3,45.7 C419.1,45.4 423.8,45 428.6,44.9 C433.4,44.8 438.1,45.3 442.9,45.3 C447.6,45.3 452.4,45.1 457.1,44.9 C461.9,44.7 466.6,44.5 471.4,44.3 C476.2,44.1 480.9,43.8 485.7,43.7 C490.5,43.6 495.2,43.7 500,43.6 C504.8,43.5 509.4,43.1 514.3,42.9 C519.2,42.7 527,42.6 529.5,42.6" fill="none" stroke="#000" stroke-width="2.15" stroke-linejoin="round"/>
<path d="M98,110 C98.8,109.8 100.5,109.7 103.1,108.7 C105.7,107.7 109.9,105.3 113.6,104 C117.3,102.7 121.3,101.6 125.1,100.8 C128.8,100 132.3,99.8 136.1,99.2 C139.8,98.6 143.7,97.8 147.6,97.2 C151.5,96.6 155.5,96.3 159.6,95.7 C163.7,95.1 167.1,94 172.1,93.4 C177.1,92.8 183.6,92.4 189.3,92.3 C195,92.2 200.7,92.7 206.4,92.9 C212.1,93.1 217.9,93.3 223.6,93.4 C229.3,93.5 235,93.3 240.7,93.4 C246.4,93.5 252.3,93.6 257.9,93.9 C263.4,94.2 267.5,94.5 274,95 C280.5,95.5 288.5,96.1 296.7,96.6 C304.9,97 314.4,97.5 323.3,97.7 C332.2,98 343.3,98 350,98.1 C356.7,98.2 358.9,98.4 363.3,98.4 C367.8,98.4 370.6,98.1 376.7,97.9 C382.8,97.7 393.7,97.2 400,97.1 C406.3,97 409.5,97.2 414.3,97.1 C419.1,97 423.8,96.6 428.6,96.4 C433.4,96.2 438.1,96 442.9,95.7 C447.6,95.4 452.4,94.9 457.1,94.6 C461.9,94.2 466.6,93.8 471.4,93.6 C476.2,93.3 480.9,93.3 485.7,93.1 C490.5,92.9 495.2,92.4 500,92.3 C504.8,92.2 509.4,92.4 514.3,92.4 C519.2,92.4 527,92.4 529.5,92.4" fill="none" stroke="#000" stroke-width="2.3" stroke-dasharray="2.3 3.6"/>
<path d="M98,279.7 C100.5,280.1 107.8,281.4 113.2,282.3 C118.6,283.2 126,284.7 130.3,285.2 C134.6,285.7 135.5,285.7 138.9,285.2 C142.3,284.7 146.6,283.2 150.9,282.3 C155.2,281.4 160.6,280.8 164.6,279.7 C168.6,278.6 171.5,277 174.9,275.5 C178.3,274 181.2,272.4 185.2,270.8 C189.2,269.2 194.3,267.6 198.9,266 C203.5,264.4 208.1,262.5 212.6,260.9 C217.1,259.3 220.6,258.4 226,256.5 C231.4,254.6 237.6,251.8 244.8,249.6 C252.1,247.4 261.2,245.5 269.5,243.4 C277.8,241.3 286.1,239 294.3,237.2 C302.6,235.3 310.8,233.7 319,232.3 C327.2,230.9 335.6,229.6 343.8,228.6 C352.1,227.6 362.5,227 368.5,226.6 C374.5,226.2 374.5,226.3 380,226.1 C385.5,225.9 394.8,225.5 401.7,225.3 C408.6,225.1 415,224.7 421.7,224.7 C428.4,224.7 433.9,225.5 441.7,225.5 C449.5,225.5 459.4,225.2 468.3,224.6 C477.2,224 487.4,222.5 495,221.9 C502.6,221.3 508,221.6 513.7,221.1 C519.5,220.6 526.9,219.5 529.5,219.2" fill="none" stroke="#dc1a22" stroke-width="2.15" stroke-linejoin="round"/>
<path d="M98,301.2 C100.5,300.8 107.8,299.5 113.2,298.6 C118.6,297.7 125.7,296.4 130.3,296 C134.9,295.6 136.3,295.7 140.6,296 C144.9,296.3 150.6,297.2 156,297.8 C161.4,298.4 167.5,298.8 173.2,299.5 C178.9,300.2 184.6,301.1 190.3,302 C196,302.9 202.6,304.4 207.5,305.2 C212.4,306 213.8,305.9 220,307 C226.2,308.1 236.6,309.9 244.8,311.5 C253.1,313.1 261.2,314.9 269.5,316.4 C277.8,317.9 286.1,319.4 294.3,320.6 C302.6,321.9 310.8,322.9 319,323.9 C327.2,324.8 335.6,325.6 343.8,326.3 C352.1,327 362.5,327.9 368.5,328.3 C374.5,328.7 374.5,328.8 380,328.8 C385.5,328.8 394.8,328.9 401.7,328.5 C408.6,328.1 415,327.8 421.7,326.7 C428.4,325.6 433.9,323.7 441.7,322.1 C449.5,320.5 459.4,318.8 468.3,317.3 C477.2,315.8 484.8,314.6 495,313.3 C505.2,312 523.8,310 529.5,309.3" fill="none" stroke="#c81a26" stroke-width="2.3" stroke-dasharray="2.3 3.6"/>
<line x1="187.3" y1="51.6" x2="217.2" y2="67.6" stroke="#000" stroke-width="2.0" stroke-linecap="round"/>
<path d="M211.8,59.8 L217.2,67.6 L207.7,67.4" fill="none" stroke="#000" stroke-width="2.0" stroke-linejoin="miter" stroke-linecap="round"/>
<line x1="267.1" y1="124.7" x2="233.4" y2="102.6" stroke="#000" stroke-width="2.0" stroke-linecap="round"/>
<path d="M238.1,110.8 L233.4,102.6 L242.8,103.6" fill="none" stroke="#000" stroke-width="2.0" stroke-linejoin="miter" stroke-linecap="round"/>
<line x1="302" y1="209" x2="268.3" y2="235.2" stroke="#dc1a22" stroke-width="2.0" stroke-linecap="round"/>
<path d="M277.6,233.4 L268.3,235.2 L272.3,226.6" fill="none" stroke="#dc1a22" stroke-width="2.0" stroke-linejoin="miter" stroke-linecap="round"/>
<line x1="234.7" y1="354.9" x2="263.3" y2="324.4" stroke="#dc1a22" stroke-width="2.0" stroke-linecap="round"/>
<path d="M254.4,327.6 L263.3,324.4 L260.7,333.5" fill="none" stroke="#dc1a22" stroke-width="2.0" stroke-linejoin="miter" stroke-linecap="round"/>
<rect x="98" y="12" width="432" height="443" fill="none" stroke="#3c3c3c" stroke-width="1.3"/>
<path d="M98,455 v2.2 M122,455 v2.2 M146,455 v3.8 M170,455 v2.2 M194,455 v2.2 M218,455 v2.2 M242,455 v2.2 M266,455 v3.8 M290,455 v2.2 M314,455 v2.2 M338,455 v2.2 M362,455 v2.2 M386,455 v3.8 M410,455 v2.2 M434,455 v2.2 M458,455 v2.2 M482,455 v2.2 M506,455 v3.8 M530,455 v2.2 M98,455 h-3.8 M98,388.3 h-2.2 M98,349.3 h-2.2 M98,321.6 h-2.2 M98,300.2 h-2.2 M98,282.6 h-2.2 M98,267.8 h-2.2 M98,255 h-2.2 M98,243.6 h-2.2 M98,233.5 h-3.8 M98,166.8 h-2.2 M98,127.8 h-2.2 M98,100.1 h-2.2 M98,78.7 h-2.2 M98,61.1 h-2.2 M98,46.3 h-2.2 M98,33.5 h-2.2 M98,22.1 h-2.2 M98,12 h-3.8" stroke="#3c3c3c" stroke-width="1.1" fill="none"/>
<text x="146" y="482.9" font-size="26.5" text-anchor="middle">10</text>
<text x="266" y="482.9" font-size="26.5" text-anchor="middle">15</text>
<text x="386" y="482.9" font-size="26.5" text-anchor="middle">20</text>
<text x="506" y="482.9" font-size="26.5" text-anchor="middle">25</text>
<text x="90.5" y="21.7" font-size="26.5" text-anchor="end">100</text>
<text x="90.5" y="243.2" font-size="26.5" text-anchor="end">10</text>
<text x="90.5" y="464.7" font-size="26.5" text-anchor="end">1</text>
<text x="110.5" y="43.2" font-size="32.5">(<tspan font-style="italic">a</tspan>)</text>
<text x="158.5" y="46.6" font-size="26.5" font-style="italic" text-anchor="start">SM<tspan font-style="normal" dx="4.5">−</tspan><tspan dx="4.5">ν</tspan><tspan font-size="18.5" dy="4.2">b</tspan></text>
<text x="273" y="145.2" font-size="26.5" font-style="italic" text-anchor="start">SM<tspan font-style="normal" dx="4.5">−</tspan><tspan dx="4.5">ν</tspan><tspan font-size="18.5" dy="4.2">s</tspan></text>
<text x="309.3" y="193.8" font-size="26.5" font-style="italic" text-anchor="start">WM<tspan font-style="normal" dx="4.5">−</tspan><tspan dx="4.5">ν</tspan><tspan font-size="18.5" dy="4.2">b</tspan></text>
<text x="205.5" y="379.6" font-size="26.5" font-style="italic" text-anchor="start">WM<tspan font-style="normal" dx="4.5">−</tspan><tspan dx="4.5">ν</tspan><tspan font-size="18.5" dy="4.2">s</tspan></text>
<text x="314.7" y="515" font-size="30.5" font-style="italic" text-anchor="middle">t(ps)</text>
<text transform="translate(34.7,232.2) rotate(-90)" font-size="30.5" font-style="italic" text-anchor="middle">ν(cm<tspan font-size="21" dy="-9.5">2</tspan><tspan dy="9.5">/s)</tspan></text>
<defs><clipPath id="clipb"><rect x="633" y="12" width="647" height="443"/></clipPath></defs><g clip-path="url(#clipb)"><path d="M816.2,455 L816.2,440.8 L838.9,424.2 L839.8,420.3 L846.2,415.3 L854.2,414.3 L856,408.6 L872,398.7 L894.7,397.7 L901.8,391.7 L903.7,386.2 L910.1,381.7 L960.6,380.7 L967.1,376.2 L976.3,375.2 L983.1,370.2 L992.3,369.2 L1000,364.2 L1023.6,363.7 L1031.1,358.7 L1040.4,357.7 L1048,353.2 L1073.2,352.2 L1080,347.7 L1096.7,346.7 L1110.9,334.6 L1122.5,335 L1129.7,329.9 L1130.8,319.7 L1136,314.5 L1145.2,313.3 L1161.7,302.3 L1162.8,294.5 L1169.7,286.5 L1172,277.2 L1185.6,268.2 L1186.7,251 L1194.4,245.3 L1194.4,225 L1187.4,220.8 L1185.8,200.7 L1178.7,195 L1177.3,173.6 L1161.8,162.2 L1160.3,156.5 L1142.4,144.1 L1133.4,142.6 L1129.1,134.1 L1119.5,132.6 L1088.2,111.9 L1064.2,111.9 L1056.9,106.2 L1039.1,106.2 L1031.7,101 L1024.4,100.6 L1016,94.7 L983.6,94.7 L976.2,89.5 L950,89.5 L943.9,83.6 L925.1,81.5 L920.9,77.4 L902.1,76.4 L894.8,70.1 L877.1,70.1 L860,59.4 L846.6,50.1 L839.3,49 L832.4,44.5 L830.3,39.1 L824.9,33.8 L823.8,16.8 L820.9,12.7" fill="none" stroke="#2e2e2e" stroke-width="1.5" stroke-linejoin="round"/>
<path d="M817.4,455 L817.4,441.4 L839.9,424.9 L840.9,420.9 L846.7,416.4 L855.1,415.4 L857,409.4 L872.4,399.9 L895.2,398.9 L902.8,392.4 L904.7,386.9 L910.5,382.9 L961,381.9 L967.6,377.4 L976.8,376.4 L983.6,371.4 L992.8,370.4 L1000.4,365.4 L1024,364.9 L1031.6,359.9 L1040.8,358.9 L1048.4,354.4 L1073.6,353.4 L1080.4,348.9 L1097.2,347.9 L1111.4,335.8 L1122.9,336.2 L1130.8,330.5 L1131.9,320.3 L1136.6,315.6 L1145.7,314.5 L1162.8,303 L1163.9,295.1 L1170.8,287.1 L1173,277.9 L1186.8,268.8 L1187.9,251.6 L1195.6,245.9 L1195.6,224.4 L1188.5,220.1 L1187,200.1 L1179.9,194.4 L1178.5,173 L1162.8,161.5 L1161.3,155.8 L1142.9,143 L1134.2,141.5 L1129.9,133 L1120,131.5 L1088.6,110.7 L1064.6,110.7 L1057.3,105 L1039.5,105 L1032.1,99.8 L1024.8,99.4 L1016.4,93.5 L984,93.5 L976.6,88.3 L950.5,88.3 L944.5,82.5 L925.7,80.4 L921.5,76.2 L902.6,75.2 L895.3,68.9 L877.5,68.9 L860.6,58.4 L847.1,49 L839.8,47.9 L833.4,43.7 L831.3,38.5 L826.1,33.2 L825,16.4 L821.9,12.1" fill="none" stroke="#6a6a6a" stroke-width="1.1" stroke-linejoin="round"/>
<path d="M818.5,455 L818.5,442 L840.9,425.6 L841.9,421.6 L847.1,417.5 L856,416.4 L857.9,410.2 L872.7,401 L895.6,400 L903.8,393.1 L905.6,387.6 L910.8,384 L961.3,383 L968,378.5 L977.2,377.5 L984,372.5 L993.1,371.5 L1000.7,366.5 L1024.3,366 L1031.9,361 L1041.1,360 L1048.7,355.5 L1073.9,354.5 L1080.7,350 L1097.6,349 L1111.8,336.9 L1123.2,337.3 L1131.8,331.2 L1133,320.8 L1137.1,316.7 L1146.1,315.6 L1163.8,303.7 L1165,295.5 L1171.8,287.6 L1174,278.6 L1187.9,269.5 L1189,252.2 L1196.7,246.5 L1196.7,223.7 L1189.6,219.4 L1188.1,199.5 L1181,193.8 L1179.6,172.4 L1163.8,160.8 L1162.3,155.1 L1143.3,142 L1135,140.5 L1130.7,132 L1120.4,130.4 L1088.9,109.6 L1064.9,109.6 L1057.6,103.9 L1039.8,103.9 L1032.4,98.7 L1025.1,98.3 L1016.7,92.4 L984.3,92.4 L976.9,87.2 L950.9,87.2 L944.9,81.4 L926.2,79.3 L921.9,75.1 L903,74.1 L895.7,67.8 L877.8,67.8 L861.2,57.5 L847.5,47.9 L840.2,46.8 L834.3,42.9 L832.3,37.8 L827.2,32.8 L826.1,16.1 L822.8,11.4" fill="none" stroke="#a8a8a8" stroke-width="1.2" stroke-linejoin="round"/>
<path d="M819.6,455 L819.6,442.6 L841.9,426.2 L842.9,422.2 L847.5,418.5 L856.8,417.4 L858.9,410.9 L873,402.1 L896,401.1 L904.7,393.7 L906.6,388.3 L911.2,385.1 L961.7,384.1 L968.3,379.5 L977.6,378.5 L984.4,373.5 L993.5,372.5 L1001,367.6 L1024.6,367.1 L1032.3,362 L1041.5,361 L1049,356.6 L1074.3,355.6 L1081.1,351.1 L1098,350.1 L1112.1,338 L1123.5,338.4 L1132.9,331.8 L1134,321.3 L1137.6,317.7 L1146.5,316.6 L1164.9,304.3 L1166,296 L1172.8,288.1 L1174.9,279.3 L1188.9,270.1 L1190,252.8 L1197.8,247.1 L1197.8,223.1 L1190.6,218.8 L1189.1,198.9 L1182,193.2 L1180.6,171.8 L1164.7,160.1 L1163.2,154.4 L1143.7,140.9 L1135.7,139.5 L1131.4,131 L1120.8,129.4 L1089.2,108.5 L1065.3,108.5 L1058,102.8 L1040.2,102.8 L1032.8,97.6 L1025.5,97.2 L1017.1,91.3 L984.7,91.3 L977.3,86.1 L951.3,86.1 L945.4,80.4 L926.7,78.3 L922.4,74 L903.4,73 L896.1,66.7 L878.1,66.7 L861.9,56.5 L847.9,46.9 L840.6,45.8 L835.2,42.2 L833.2,37.2 L828.2,32.3 L827.2,15.7 L823.7,10.8" fill="none" stroke="#d8d8d8" stroke-width="1.2" stroke-linejoin="round"/>
<path d="M820.9,455 L820.9,443.2 L843,427 L844,422.9 L848.1,419.8 L857.8,418.6 L860,411.7 L873.4,403.4 L896.5,402.3 L905.8,394.5 L907.7,389.2 L911.6,386.4 L962.1,385.4 L968.8,380.8 L978.1,379.8 L984.9,374.8 L994,373.8 L1001.5,368.9 L1025.1,368.4 L1032.8,363.3 L1041.9,362.3 L1049.4,357.9 L1074.7,356.9 L1081.5,352.3 L1098.5,351.3 L1112.6,339.3 L1123.9,339.7 L1134.1,332.5 L1135.3,321.9 L1138.2,318.9 L1146.9,317.9 L1166.1,305.1 L1167.2,296.6 L1174,288.7 L1176.1,280.1 L1190.2,270.8 L1191.3,253.5 L1199.1,247.7 L1199.1,222.4 L1191.9,218 L1190.4,198.3 L1183.3,192.6 L1181.9,171.1 L1165.9,159.4 L1164.4,153.6 L1144.2,139.7 L1136.6,138.3 L1132.2,129.8 L1121.2,128.1 L1089.6,107.2 L1065.8,107.2 L1058.5,101.5 L1040.6,101.5 L1033.3,96.4 L1026,96 L1017.5,90 L985.1,90 L977.7,84.8 L951.9,84.8 L946,79.1 L927.3,77.1 L923,72.8 L903.9,71.8 L896.6,65.4 L878.5,65.4 L862.6,55.5 L848.4,45.7 L841.1,44.6 L836.3,41.4 L834.3,36.5 L829.5,31.7 L828.4,15.2 L824.8,10" fill="none" stroke="#fcfcfc" stroke-width="1.8" stroke-linejoin="round"/>
<path d="M633.7,47.3 L652.3,60 L652.3,104.9 L659.3,110.5 L660.1,115.7 L669.1,116.6 L692.6,133.2 L693.6,139.1 L700.2,144.8 L701.2,150.5 L707.9,155.3 L708.8,160.9 L717.5,167 L751,167 L756.5,171.5 L756.3,195.2 L749.2,200 L749.2,222.8 L756.8,223.7 L770,231.8 L771.9,245.2 L777.1,248.7 L799,263.3 L799,263.4 L790.1,267.3 L781.9,268.1 L777,273.9 L756,274.3 L750.5,270.6 L749.3,262.6 L754.1,257.8 L750,257.7 L742.9,260.4 L739.6,265.4 L738.7,280.8 L733.8,285.7 L732.8,290.1 L732.8,298.1 L720.2,305.8 L716.4,314.4 L709.6,318.5 L686.2,318.5 L683.4,321.4 L684.4,325.2 L690.7,330.3 L692,360 L678.3,369.6 L671.6,364.3 L664.9,363.2 L654.4,369 L652.3,372.1 L652.9,386.2 L642.1,391.1 L632.6,388.2" fill="none" stroke="#2e2e2e" stroke-width="1.5" stroke-linejoin="round"/>
<path d="M633.1,48.3 L651.1,60.6 L651.1,105.5 L658.2,111.1 L659.1,116.8 L668.6,117.8 L691.5,133.9 L692.5,139.7 L699.1,145.4 L700.1,151.1 L706.8,155.9 L707.7,161.6 L717.1,168.2 L750.5,168.2 L755.3,172.1 L755.1,194.6 L748,199.4 L748,223.9 L756.4,224.9 L768.9,232.5 L770.8,245.9 L776.5,249.7 L796.6,263.1 L796.6,263.1 L789.8,266.1 L781.3,267 L776.4,272.7 L756.4,273.1 L751.6,269.9 L750.6,263.1 L755.5,258.2 L766.4,257.1 L749.8,256.5 L742.2,259.4 L738.4,265 L737.5,280.2 L732.7,285.1 L731.6,290 L731.6,297.5 L719.3,305 L715.5,313.6 L709.2,317.3 L685.7,317.3 L682.1,321 L683.3,325.8 L689.5,330.9 L690.8,359.4 L678.3,368.1 L672.1,363.2 L664.7,361.9 L653.6,368.1 L651.1,371.7 L651.7,385.5 L642,389.8 L633,387.1" fill="none" stroke="#6a6a6a" stroke-width="1.1" stroke-linejoin="round"/>
<path d="M632.4,49.2 L650,61.2 L650,106 L657.2,111.7 L658.1,117.8 L668.2,118.9 L690.5,134.6 L691.5,140.3 L698.1,146 L699.1,151.8 L705.8,156.6 L706.7,162.3 L716.8,169.3 L750.1,169.3 L754.2,172.6 L754,194 L746.9,198.8 L746.9,224.9 L756.1,226 L767.9,233.2 L769.8,246.6 L775.8,250.6 L794.3,262.9 L789.5,265 L780.7,265.9 L775.9,271.6 L756.7,272 L752.6,269.2 L751.8,263.5 L756,259.3 L769.9,257.8 L769.9,256.1 L749.6,255.4 L741.4,258.5 L737.3,264.7 L736.4,279.8 L731.7,284.5 L730.5,289.9 L730.5,296.8 L718.4,304.2 L714.6,312.8 L708.9,316.2 L685.3,316.2 L680.9,320.7 L682.3,326.5 L688.4,331.4 L689.7,358.8 L678.3,366.8 L672.5,362.2 L664.5,360.8 L652.8,367.2 L650,371.4 L650.6,384.8 L641.9,388.6 L633.3,386" fill="none" stroke="#a8a8a8" stroke-width="1.2" stroke-linejoin="round"/>
<path d="M631.8,50.1 L648.9,61.8 L648.9,106.5 L656.2,112.3 L657.2,118.8 L667.8,119.9 L689.5,135.2 L690.5,140.9 L697.1,146.6 L698.1,152.4 L704.8,157.2 L705.7,162.9 L716.4,170.4 L749.8,170.4 L753.1,173.1 L752.9,193.4 L745.8,198.2 L745.8,225.9 L755.7,227 L766.9,233.9 L768.8,247.2 L775.2,251.5 L792,262.7 L789.3,263.9 L780.1,264.9 L775.4,270.5 L757,270.9 L753.6,268.6 L752.9,263.8 L756.5,260.3 L772.2,258.7 L772,255 L749.5,254.3 L740.7,257.6 L736.2,264.3 L735.4,279.3 L730.7,283.9 L729.4,289.8 L729.4,296.2 L717.5,303.4 L713.7,312 L708.6,315.1 L684.8,315.1 L679.7,320.4 L681.3,327.1 L687.3,331.9 L688.5,358.2 L678.4,365.4 L673,361.1 L664.3,359.6 L652,366.4 L648.9,371.1 L649.4,384.1 L641.9,387.5 L633.6,385" fill="none" stroke="#d8d8d8" stroke-width="1.2" stroke-linejoin="round"/>
<path d="M631.1,51.2 L647.6,62.5 L647.6,107.1 L654.9,113 L656,120 L667.4,121.2 L688.3,136 L689.3,141.6 L695.9,147.3 L696.9,153.2 L703.6,157.9 L704.5,163.7 L716,171.7 L749.3,171.7 L751.8,173.7 L751.6,192.7 L744.5,197.5 L744.5,227 L755.3,228.3 L765.7,234.7 L767.5,248 L774.5,252.6 L789.3,262.5 L788.9,262.7 L779.5,263.7 L774.8,269.2 L757.4,269.6 L754.8,267.8 L754.3,264.3 L757.1,261.6 L774.8,259.7 L774.6,253.8 L749.2,253 L739.9,256.5 L735,263.9 L734.1,278.7 L729.5,283.3 L728.1,289.6 L728.1,295.5 L716.5,302.6 L712.7,311.1 L708.3,313.8 L684.3,313.8 L678.2,320 L680.2,327.8 L686.1,332.6 L687.2,357.6 L678.4,363.8 L673.5,359.9 L664.1,358.2 L651.1,365.4 L647.6,370.7 L648.1,383.2 L641.8,386.1 L634,383.7" fill="none" stroke="#fcfcfc" stroke-width="1.8" stroke-linejoin="round"/>
<path d="M783.1,223.1 L789.8,219.3 L797.4,225 L806.9,226 L813.6,230.7 L812.6,235.5 L808.8,239.3 L789.8,239.9 L784,235.5 L783.1,223.1Z" fill="#fbfbfb" stroke="none"/>
<path d="M785.8,224.6 L786.5,234.1 L790.6,237.3 L807.7,236.7 L810.2,234.2 L810.7,231.8 L806,228.5 L796.4,227.5 L789.6,222.4 L785.8,224.6Z" fill="none" stroke="#dedede" stroke-width="1.4"/>
<path d="M784.7,223.9 L785.4,234.7 L790.3,238.4 L808.2,237.8 L811.2,234.8 L811.9,231.4 L806.4,227.5 L796.8,226.4 L789.7,221.1 L784.7,223.9Z" fill="none" stroke="#ababab" stroke-width="1.2"/>
<path d="M783.3,223.2 L784.2,235.4 L789.9,239.7 L808.7,239.1 L812.4,235.4 L813.4,230.8 L806.8,226.2 L797.3,225.2 L789.8,219.5 L783.3,223.2Z" fill="none" stroke="#2e2e2e" stroke-width="1.9" stroke-linejoin="round"/>
<path d="M658.5,342 L667.1,337 L678.3,337 L679.5,345.7 L669.6,349.4 L658.5,342Z" fill="#fbfbfb" stroke="none"/>
<path d="M663.4,342.2 L669.9,346.5 L676.6,344 L676,339.6 L667.8,339.6 L663.4,342.2Z" fill="none" stroke="#dedede" stroke-width="1.4"/>
<path d="M661.3,342.1 L669.8,347.7 L677.8,344.7 L677,338.5 L667.5,338.5 L661.3,342.1Z" fill="none" stroke="#ababab" stroke-width="1.2"/>
<path d="M658.9,342 L669.6,349.2 L679.3,345.6 L678.1,337.2 L667.2,337.2 L658.9,342Z" fill="none" stroke="#2e2e2e" stroke-width="1.9" stroke-linejoin="round"/>
<path d="M633,391.7 L648.8,391.7 L653.6,400.1 L647.7,407.1 L635.2,410.7 L633,410.7" fill="none" stroke="#2e2e2e" stroke-width="1.5" stroke-linejoin="round"/>
<path d="M633,392.9 L648.1,392.9 L652.1,400 L647.1,406.1 L635,409.5 L633,409.5" fill="none" stroke="#6a6a6a" stroke-width="1.1" stroke-linejoin="round"/>
<path d="M633,394 L647.4,394 L650.8,399.9 L646.4,405.1 L634.9,408.4 L633,408.4" fill="none" stroke="#a8a8a8" stroke-width="1.2" stroke-linejoin="round"/>
<path d="M633,395.1 L646.8,395.1 L649.5,399.8 L645.8,404.2 L634.7,407.3 L633,407.3" fill="none" stroke="#d8d8d8" stroke-width="1.2" stroke-linejoin="round"/>
<path d="M633,396.4 L646,396.4 L647.9,399.6 L645.1,403 L634.5,406 L633,406" fill="none" stroke="#fcfcfc" stroke-width="1.8" stroke-linejoin="round"/>
<path d="M633,441 L636.5,444.5 L636,452 L634,455" fill="none" stroke="#3a3a3a" stroke-width="1.8"/>
<ellipse cx="733.2" cy="195.6" rx="2.4" ry="1.9" fill="#3a3a3a"/></g>
<path d="M923.7,73.4 H1025.3 V13.7 H923.7 Z" fill="none" stroke="#000" stroke-width="2.5" stroke-dasharray="8 6.6" stroke-dashoffset="4.6"/>
<path d="M1206,279.1 H1265 V185.5 H1206 Z" fill="none" stroke="#000" stroke-width="2.5" stroke-dasharray="8 6.6" stroke-dashoffset="4.6"/>
<rect x="633" y="12" width="647" height="443" fill="none" stroke="#3c3c3c" stroke-width="1.3"/>
<path d="M633,455 v3.8 M794.8,455 v3.8 M956.5,455 v3.8 M1118.2,455 v3.8 M1280,455 v3.8 M633,455 h-3.8 M633,344.2 h-3.8 M633,233.5 h-3.8 M633,122.8 h-3.8 M633,12 h-3.8" stroke="#3c3c3c" stroke-width="1.1" fill="none"/>
<text x="633" y="482.7" font-size="26.5" text-anchor="middle">31</text>
<text x="794.8" y="482.7" font-size="26.5" text-anchor="middle">32</text>
<text x="956.5" y="482.7" font-size="26.5" text-anchor="middle">33</text>
<text x="1118.2" y="482.7" font-size="26.5" text-anchor="middle">34</text>
<text x="1280" y="482.7" font-size="26.5" text-anchor="middle">35</text>
<text x="625" y="464.7" font-size="26.5" text-anchor="end">−2</text>
<text x="625" y="353.9" font-size="26.5" text-anchor="end">−1</text>
<text x="625" y="243.2" font-size="26.5" text-anchor="end">0</text>
<text x="625" y="132.4" font-size="26.5" text-anchor="end">1</text>
<text x="625" y="21.7" font-size="26.5" text-anchor="end">2</text>
<text x="643" y="44.4" font-size="33.5">(<tspan font-style="italic">b</tspan>)</text>
<text x="1038" y="55.4" font-size="42" font-style="italic">ν<tspan font-size="29.4" dy="7.5">b</tspan></text>
<text x="1231.5" y="316" font-size="42" font-style="italic">ν<tspan font-size="29.4" dy="7.5">s</tspan></text>
<text x="958.5" y="515.6" font-size="30.5" font-style="italic" text-anchor="middle">x(μm<tspan font-style="normal" font-weight="bold">)</tspan></text>
<text transform="translate(576,234) rotate(-90)" font-size="30.5" font-style="italic" text-anchor="middle">y(μm<tspan font-style="normal" font-weight="bold">)</tspan></text>
<text transform="translate(1443.5,233.5) rotate(-90)" font-size="29.8" font-style="italic" text-anchor="middle">cm<tspan font-size="21" dy="-11">2</tspan><tspan dy="11">/s</tspan></text>
<rect x="1320" y="45" width="13.5" height="376" fill="none" stroke="#444" stroke-width="1.1"/>
<path d="M1333.5,421 h3.8 M1333.5,345.8 h3.8 M1333.5,270.6 h3.8 M1333.5,195.4 h3.8 M1333.5,120.2 h3.8 M1333.5,45 h3.8" stroke="#3c3c3c" stroke-width="1.1" fill="none"/>
<text x="1341.2" y="430.3" font-size="25.6">0.0</text>
<text x="1341.2" y="355.1" font-size="25.6">20.0</text>
<text x="1341.2" y="279.9" font-size="25.6">40.0</text>
<text x="1341.2" y="204.7" font-size="25.6">60.0</text>
<text x="1341.2" y="129.5" font-size="25.6">80.0</text>
<text x="1341.2" y="54.3" font-size="25.6">100.0</text>
</svg></div></body></html>
